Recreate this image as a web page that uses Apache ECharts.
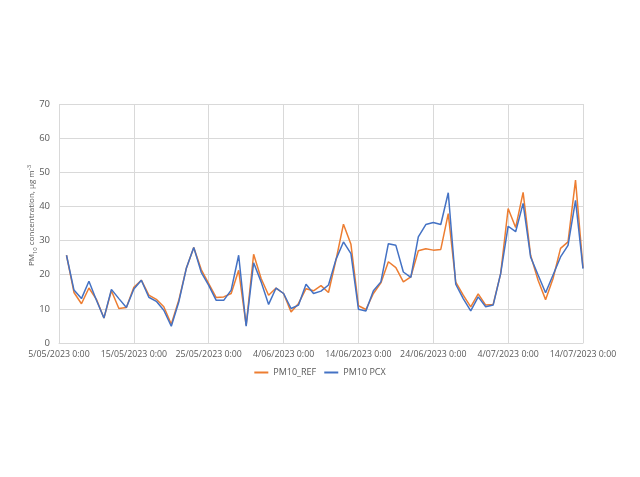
<!DOCTYPE html>
<html>
<head>
<meta charset="utf-8">
<script src="https://cdn.jsdelivr.net/npm/echarts@6/dist/echarts.min.js"></script>
<style>
  html, body { margin: 0; padding: 0; background: #fff; }
  #chart { width: 640px; height: 477px; }
</style>
</head>
<body>
<div id="chart"></div>
<script>
// daily values, 6/05/2023 .. 14/07/2023
const startDate = new Date(2023, 4, 5); // axis origin 5/05/2023
const pm10Ref = [
  25.7, 14.8, 11.5, 16.1, 12.8, 7.3, 15.3, 10.1, 10.4, 16.3,
  18.4, 14.0, 12.8, 10.6, 5.5, 12.5, 21.8, 28.0, 21.5, 17.4,
  13.3, 13.5, 14.5, 21.3, 5.2, 26.0, 18.9, 14.0, 16.1, 14.5,
  9.1, 11.6, 15.9, 15.3, 16.8, 14.8, 24.3, 34.8, 28.9, 10.9,
  9.8, 14.5, 17.6, 23.8, 22.1, 17.9, 19.4, 27.0, 27.6, 27.2,
  27.4, 37.9, 17.8, 14.0, 10.6, 14.4, 11.1, 11.3, 20.3, 39.4,
  33.8, 44.1, 25.7, 18.4, 12.7, 18.9, 27.7, 29.6, 47.7, 22.0
];
const pm10Pcx = [
  25.7, 15.5, 13.0, 18.1, 12.5, 7.3, 15.7, 13.0, 10.4, 15.8,
  18.4, 13.4, 12.2, 9.6, 4.9, 12.0, 21.8, 28.0, 20.7, 16.9,
  12.5, 12.5, 15.5, 25.7, 4.9, 23.5, 17.9, 11.3, 16.1, 14.5,
  10.1, 11.1, 17.2, 14.5, 15.2, 17.0, 24.5, 29.6, 26.2, 9.9,
  9.4, 15.3, 17.9, 29.1, 28.6, 20.8, 19.2, 31.1, 34.7, 35.3,
  34.7, 44.0, 17.2, 13.0, 9.4, 13.5, 10.6, 11.1, 20.3, 34.2,
  32.6, 40.9, 25.2, 19.9, 14.7, 19.9, 25.2, 28.6, 41.8, 21.8
];

// x = days since 5/05/2023, first reading on day 1
const toPairs = vals => vals.map((v, i) => [i + 1, v]);

const dateLabel = d => {
  const dt = new Date(startDate.getTime());
  dt.setDate(dt.getDate() + d);
  const mm = String(dt.getMonth() + 1).padStart(2, '0');
  return dt.getDate() + '/' + mm + '/' + dt.getFullYear() + ' 0:00';
};

const myChart = echarts.init(document.getElementById('chart'));
const labelColor = '#595959';
const gridColor = '#d9d9d9';

myChart.setOption({
  animation: false,
  textStyle: { fontFamily: 'Open Sans' },
  grid: { left: 59, right: 57, top: 104, bottom: 134 },
  legend: {
    bottom: 95,
    left: 'center',
    itemWidth: 14,
    itemHeight: 2,
    itemGap: 8,
    icon: 'rect',
    textStyle: { color: labelColor, fontSize: 9, fontFamily: 'Open Sans' },
    data: ['PM10_REF', 'PM10 PCX']
  },
  xAxis: {
    type: 'value',
    min: 0,
    max: 70,
    interval: 10,
    axisLine: { show: true, lineStyle: { color: gridColor } },
    axisTick: { show: false },
    axisLabel: {
      color: labelColor,
      fontSize: 8.8,
      margin: 7,
      formatter: v => dateLabel(v)
    },
    splitLine: { show: true, lineStyle: { color: gridColor } }
  },
  yAxis: {
    type: 'value',
    min: 0,
    max: 70,
    interval: 10,
    axisLine: { show: false },
    axisTick: { show: false },
    axisLabel: { color: labelColor, fontSize: 9.5, margin: 9 },
    splitLine: { lineStyle: { color: gridColor } },
    name: '{t|PM}{sub|10}{t| concentration, µg m}{sup|-3}',
    nameLocation: 'middle',
    nameRotate: 90,
    nameGap: 21,
    nameMoveOverlap: false,
    nameTextStyle: {
      padding: [0, 0, 0, 16],
      rich: {
        t: { fontSize: 8, color: labelColor, fontFamily: 'Open Sans', lineHeight: 12, verticalAlign: 'middle' },
        sub: { fontSize: 6, color: labelColor, fontFamily: 'Open Sans', lineHeight: 12, verticalAlign: 'bottom' },
        sup: { fontSize: 6, color: labelColor, fontFamily: 'Open Sans', lineHeight: 12, verticalAlign: 'top' }
      }
    }
  },
  series: [
    {
      name: 'PM10_REF',
      type: 'line',
      data: toPairs(pm10Ref),
      showSymbol: false,
      color: '#ED7D31',
      lineStyle: { width: 1.5, color: '#ED7D31' }
    },
    {
      name: 'PM10 PCX',
      type: 'line',
      data: toPairs(pm10Pcx),
      showSymbol: false,
      color: '#4472C4',
      lineStyle: { width: 1.5, color: '#4472C4' }
    }
  ]
});
</script>
</body>
</html>
